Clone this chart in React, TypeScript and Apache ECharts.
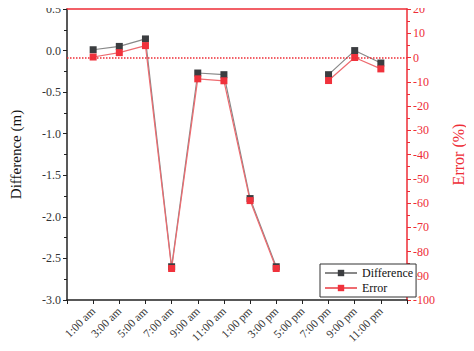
import React, { useEffect, useRef } from "react";
import * as echarts from "echarts";

const categories = ["", "1:00 am", "3:00 am", "5:00 am", "7:00 am", "9:00 am", "11:00 am", "1:00 pm", "3:00 pm", "5:00 pm", "7:00 pm", "9:00 pm", "11:00 pm", ""];
const difference = [null, 0.01, 0.05, 0.14, -2.6, -0.27, -0.29, -1.78, -2.6, null, -0.29, 0.0, -0.15, null];
const errorPct = [null, 0.2, 2.0, 4.9, -87, -8.8, -9.6, -59, -87, null, -9.5, 0, -4.7, null];

const FONT = "'Liberation Serif', 'Times New Roman', serif";
const RED = "#ee2c36";

export default function App() {
  const ref = useRef<HTMLDivElement>(null);
  useEffect(() => {
    if (!ref.current) return;
    const chart = echarts.init(ref.current, undefined, { renderer: "svg" });
    chart.setOption({
      animation: false,
      textStyle: { fontFamily: FONT },
      grid: { left: 56, right: 54, top: 9, bottom: 51 },
      legend: {
        orient: "vertical",
        left: 320,
        top: 264,
        backgroundColor: "#fff",
        borderColor: "#333",
        borderWidth: 1,
        borderRadius: 0,
        padding: [3, 3, 3, 4],
        itemGap: 3,
        itemWidth: 32,
        itemHeight: 8,
        textStyle: { fontFamily: FONT, fontSize: 12, color: "#111" },
        data: ["Difference", "Error"],
      },
      xAxis: [
        {
          type: "category",
          data: categories,
          boundaryGap: false,
          axisLine: { onZero: false, lineStyle: { color: "#222", width: 1.5 } },
          axisTick: { show: true, inside: false, length: 4, lineStyle: { color: "#222" }, interval: 0 },
          axisLabel: { rotate: 45, interval: 0, fontSize: 11.5, fontFamily: FONT, color: "#333", margin: 9 },
          splitLine: { show: false },
        },
        {
          type: "category",
          data: categories,
          boundaryGap: false,
          position: "top",
          axisLine: { onZero: false, lineStyle: { color: RED, width: 1.5 } },
          axisTick: { show: false },
          axisLabel: { show: false },
          splitLine: { show: false },
        },
      ],
      yAxis: [
        {
          type: "value",
          min: -3,
          max: 0.5,
          interval: 0.5,
          name: "Difference (m)",
          nameLocation: "middle",
          nameGap: 44,
          nameTextStyle: { fontFamily: FONT, fontSize: 15, color: "#111" },
          axisLine: { show: true, onZero: false, lineStyle: { color: "#222", width: 1.5 } },
          axisTick: { show: true, length: 4, lineStyle: { color: "#222" } },
          minorTick: { show: true, splitNumber: 2, length: 3, lineStyle: { color: "#222" } },
          axisLabel: { fontSize: 12, fontFamily: FONT, color: "#333", margin: 6, formatter: (v: number) => v.toFixed(1) },
          splitLine: { show: false },
        },
        {
          type: "value",
          min: -100,
          max: 20,
          interval: 10,
          position: "right",
          name: "Error (%)",
          nameLocation: "middle",
          nameGap: 43,
          nameTextStyle: { fontFamily: FONT, fontSize: 16, color: RED },
          axisLine: { show: true, onZero: false, lineStyle: { color: RED, width: 1.5 } },
          axisTick: { show: true, length: 4, lineStyle: { color: RED } },
          minorTick: { show: true, splitNumber: 2, length: 3, lineStyle: { color: RED } },
          axisLabel: { fontSize: 12, fontFamily: FONT, color: RED, margin: 6 },
          splitLine: { show: false },
        },
      ],
      series: [
        {
          name: "Difference",
          type: "line",
          yAxisIndex: 0,
          data: difference,
          symbol: "rect",
          symbolSize: 7,
          connectNulls: false,
          itemStyle: { color: "#3b3d40" },
          lineStyle: { color: "#888", width: 1.2 },
        },
        {
          name: "Error",
          type: "line",
          yAxisIndex: 1,
          data: errorPct,
          symbol: "rect",
          symbolSize: 7,
          connectNulls: false,
          itemStyle: { color: "#f0323c" },
          lineStyle: { color: "#ee6b70", width: 1.2 },
          markLine: {
            silent: true,
            symbol: "none",
            label: { show: false },
            lineStyle: { color: RED, type: "dotted", width: 1.5 },
            data: [{ yAxis: 0 }],
          },
        },
      ],
    });
    return () => chart.dispose();
  }, []);
  return <div ref={ref} style={{ width: 474, height: 351, margin: -8 }} />;
}
